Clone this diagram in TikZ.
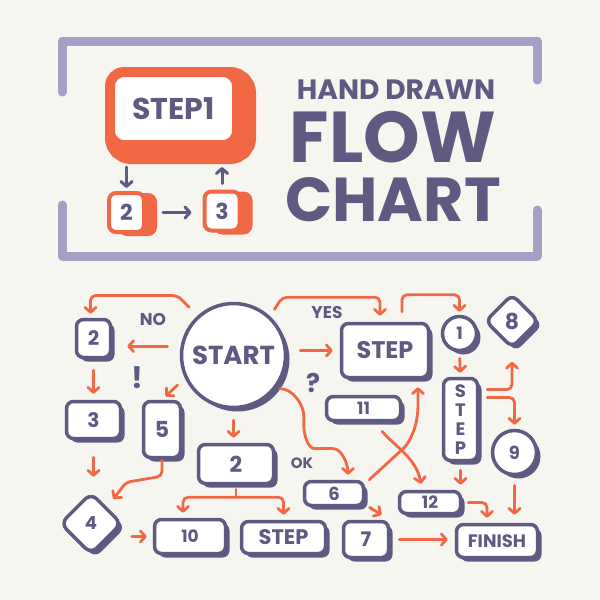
\documentclass[tikz,border=0pt]{standalone}
\usepackage{fontspec}
\setmainfont{Poppins}
\usetikzlibrary{arrows.meta,shapes.geometric,shadows}
\definecolor{paper}{HTML}{F7F5EF}
\definecolor{ink}{HTML}{5F5A82}
\definecolor{lilac}{HTML}{A49FC4}
\definecolor{flame}{HTML}{F26845}
\tikzset{
  hand/.style={text=ink, font=\bfseries\fontsize{#1}{#1}\selectfont},
  frame/.style={draw=lilac, line width=9pt, line cap=round, line join=round},
  tvbig/.style={draw=flame, fill=white, line width=10pt, rounded corners=14pt, inner sep=0pt,
    general shadow={fill=flame, draw=flame, line width=24pt, shadow xshift=7pt, shadow yshift=-7pt}},
  tvsmall/.style={draw=flame, fill=white, line width=4pt, rounded corners=7pt, inner sep=0pt,
    minimum width=35pt, minimum height=39pt,
    general shadow={fill=flame, draw=flame, line width=4pt, shadow xshift=11pt, shadow yshift=-2pt}},
  box/.style={draw=ink, fill=white, line width=3.5pt, rounded corners=7pt, inner sep=0pt,
    general shadow={fill=ink, shadow xshift=4pt, shadow yshift=-4pt}},
  inkarrow/.style={draw=ink, line width=3pt, line cap=round, -{Straight Barb[length=5pt,width=11pt,round]}},
  link/.style={draw=flame, line width=2.8pt, line cap=round, rounded corners=5pt,
    -{Straight Barb[length=5pt,width=11pt,round]}},
}
\begin{document}
\begin{tikzpicture}[x=1pt,y=-1pt]
  \fill[paper] (0,0) rectangle (600,600);
  \useasboundingbox (0,0) rectangle (600,600);

  % title frame
  \draw[frame] (62,92) -- (62,41) -- (537,41) -- (537,80);
  \draw[frame] (62,205) -- (62,256) -- (537,256) -- (537,210);

  % little orange chart
  \node[tvbig, minimum width=127pt, minimum height=73pt, hand=30] (step1) at (173.5,108.5) {STEP1};
  \node[tvsmall, hand=22] (tw) at (126.5,212.5) {2};
  \node[tvsmall, hand=22] (th) at (222,211) {3};
  \draw[inkarrow, shorten <=17pt, shorten >=3pt] (step1.south -| tw.north) -- (tw.north);
  \draw[inkarrow, shorten <=17pt, shorten >=11pt] (tw.east) -- (tw.east -| th.west);
  \draw[inkarrow, shorten <=6pt, shorten >=17pt] (th.north) -- (th.north |- step1.south);

  \node[hand=28, inner sep=0pt] (hand) at (396,90) {HAND DRAWN};
  \node[hand=72, inner sep=0pt] (flow) at (393,137) {FLOW};
  \node[hand=62, inner sep=0pt] (chart) at (393,200) {CHART};

  % the chart
  \node[box, circle, minimum size=104pt, hand=26] (start) at (233.5,355.5) {START};
  \node[box, minimum width=34pt, minimum height=38pt, hand=20] (n2) at (93.5,338.5) {2};
  \node[box, minimum width=54pt, minimum height=37pt, hand=20] (n3) at (93.5,420) {3};
  \node[box, minimum width=37pt, minimum height=56pt, hand=22] (n5) at (162,429.5) {5};
  \node[box, minimum width=75pt, minimum height=39pt, hand=22] (mid) at (236,464) {2};
  \node[box, diamond, aspect=1, minimum width=62pt, minimum height=62pt, rounded corners=8pt, hand=18] (n4) at (91,523.5) {4};
  \node[box, minimum width=71pt, minimum height=34pt, hand=17] (n10) at (190,536.5) {10};
  \node[box, minimum width=84pt, minimum height=32pt, hand=21] (stepb) at (283.5,537.5) {STEP};
  \node[box, minimum width=59pt, minimum height=24pt, hand=18] (n6) at (334,493.5) {6};
  \node[box, minimum width=45pt, minimum height=36pt, hand=20] (n7) at (366,539.5) {7};
  \node[box, minimum width=81pt, minimum height=33pt, hand=18] (finish) at (497,541) {FINISH};
  \node[box, minimum width=61pt, minimum height=22pt, hand=17] (n12) at (430,502.5) {12};
  \node[box, circle, minimum size=44pt, hand=18] (n9) at (514.5,452.5) {9};
  \node[box, minimum width=74pt, minimum height=24pt, hand=17] (n11) at (363.5,408.5) {11};
  \node[box, minimum width=87pt, minimum height=54pt, hand=24] (stept) at (385,350.5) {STEP};
  \node[box, circle, minimum size=34pt, hand=17] (n1) at (459.5,333.5) {1};
  \node[box, minimum width=34pt, minimum height=82pt, align=center, hand=18,
        font=\bfseries\fontsize{18}{19}\selectfont] (stepv) at (460.5,419.5) {S\\T\\E\\P};
  \node[box, diamond, aspect=1, minimum size=54pt, rounded corners=7pt, hand=22] (n8) at (512,321) {8};

  \node[hand=17] (no) at (153,320) {NO};
  \node[hand=17] (yes) at (327,313) {YES};
  \node[hand=15] (ok) at (302,463) {OK};
  \node[hand=30] (bang) at (137,378) {!};
  \node[hand=26] (ask) at (313,383) {?};

  % connectors
  \draw[link, shorten <=12pt, shorten >=4pt] (start.132) -- ++(-20,-20) -| ([xshift=-3pt]n2.north);
  \draw[link, shorten <=13pt, shorten >=15pt] (start.170) -- (start.170 -| n2.east);
  \draw[link, shorten <=10pt, shorten >=5pt] (start.205) -- (n5.north);
  \draw[link, shorten <=11pt, shorten >=6pt] (n2.south) -- (n2.south |- n3.north);
  \draw[link, shorten <=11pt, shorten >=5pt] (start.south) -- (start.south |- mid.north);
  \draw[link, shorten <=17pt, shorten >=14pt] (n3.south) -- (n3.south |- n4.north);
  \draw[link, shorten <=1pt, shorten >=10pt] (n5.south) -- ++(0,17) -- ++(-36,6) -- (n4.north east);
  \draw[link, shorten <=8pt, shorten >=6pt] (n4.east |- n10.west) -- (n10.west);
  \draw[link, -, shorten <=4pt] (mid.south) -- ++(0,12) coordinate (fork);
  \draw[link, shorten >=5pt] (fork) -| ([xshift=-7pt]n10.north);
  \draw[link, shorten >=5pt] (fork) -| (stepb.north);
  \draw[link, shorten <=13pt, shorten >=7pt] (stept.west -| start.east) -- (stept.west);
  \draw[link, shorten <=8pt, shorten >=6pt] (start.47) -- ++(12,-19) -| ([xshift=-5pt]stept.north);
  \draw[link, shorten <=10pt, shorten >=3pt] ([xshift=17pt]stept.north) -- ++(0,-27) -| (n1.north);
  \draw[link, shorten <=6pt, shorten >=4pt] (n1.south) -- (stepv.north);
  \draw[link, shorten <=8pt, shorten >=12pt] ([yshift=30pt]stepv.east) -| (n8.south);
  \draw[link, shorten <=8pt, shorten >=4pt] ([yshift=22pt]stepv.east) -| (n9.north);
  \draw[link, shorten <=8pt, shorten >=5pt] (stepv.south) -- (stepv.south |- n12.north);
  \draw[link, shorten <=9pt, shorten >=8pt] (n9.south) -- (n9.south |- finish.north);
  \draw[link, shorten <=6pt, shorten >=5pt] (n12.east) -| ([xshift=-10pt]finish.north);
  \draw[link, shorten <=9pt, shorten >=7pt] (n7.east) -- (n7.east -| finish.west);
  \draw[link, shorten <=5pt, shorten >=10pt] (n6.-20) -- (n7.north east);
  \draw[link, shorten <=4pt, shorten >=5pt] (start.-38) to[out=0,in=90] ++(28,33)
    to[out=-90,in=180] ++(16,27) -- ++(8,0) to[out=0,in=90] ([xshift=14pt]n6.north);
  \draw[link, shorten <=12pt, shorten >=6pt] ([xshift=11pt]n11.south) to[out=-50,in=100] ([xshift=-8pt]n12.north);
  \draw[link, shorten >=8pt] ([xshift=4pt]n6.north east) -- ++(37,-34) to[out=60,in=-90] ([xshift=33pt]stept.south);
\end{tikzpicture}
\end{document}
